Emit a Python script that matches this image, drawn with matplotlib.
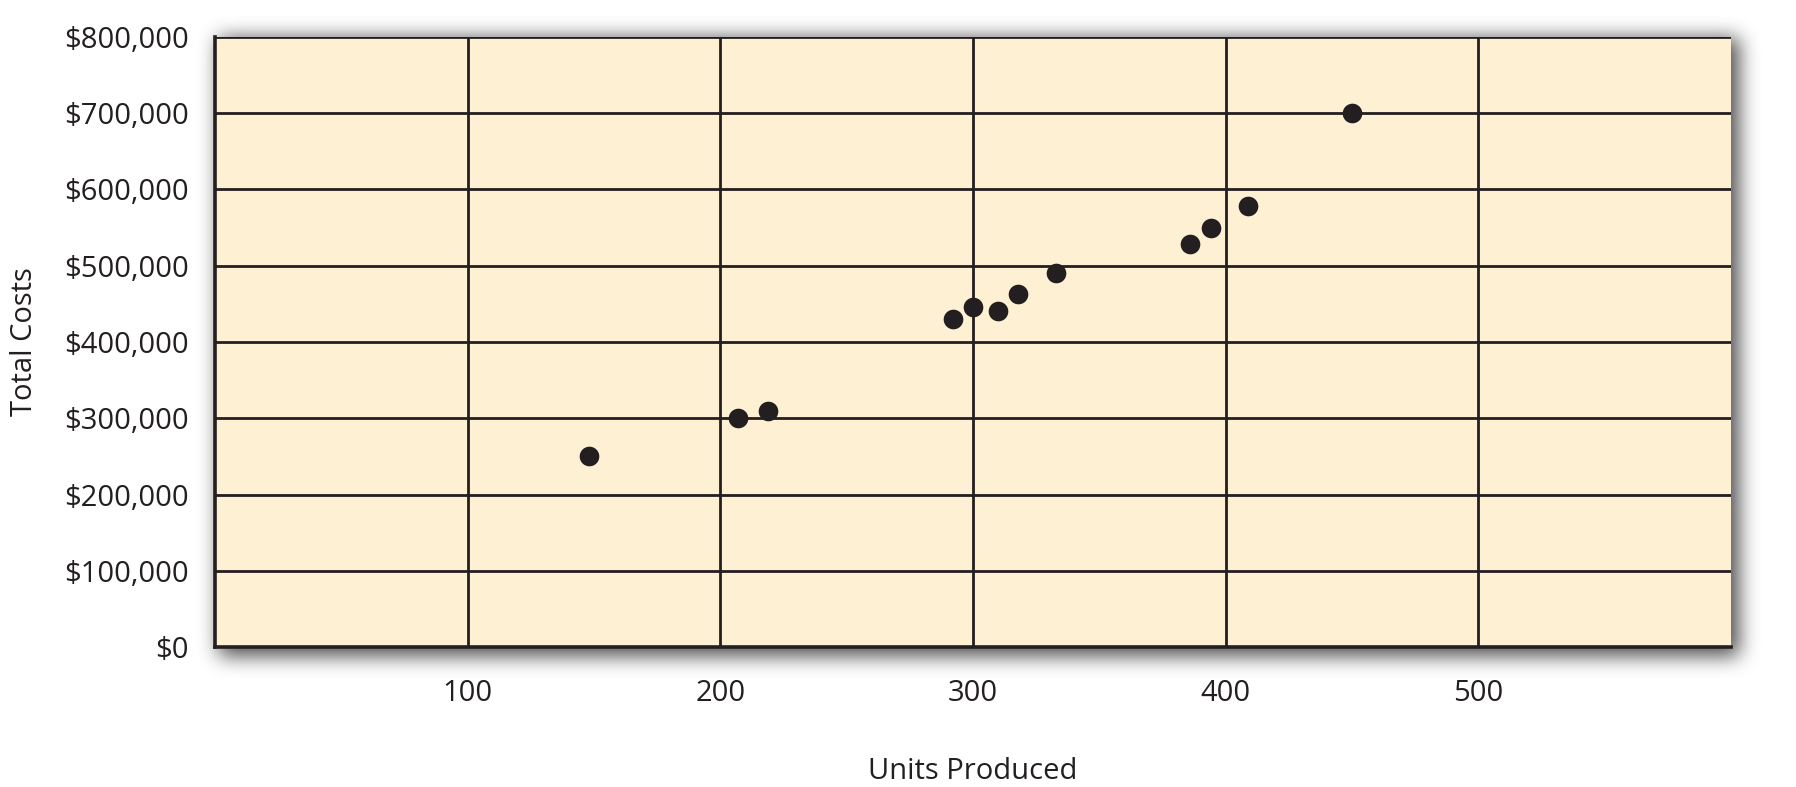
import numpy as np
import matplotlib
matplotlib.use("Agg")
import matplotlib.pyplot as plt
from matplotlib.ticker import FuncFormatter

# ---- data ----
units_produced = [148, 207, 219, 292, 300, 310, 318, 333, 386, 394, 409, 450]
total_costs = [250000, 300000, 310000, 430000, 446000, 441000, 463000, 490000,
               528000, 550000, 578000, 700000]
x_ticks = [100, 200, 300, 400, 500]
y_ticks = [0, 100000, 200000, 300000, 400000, 500000, 600000, 700000, 800000]
x_label = "Units Produced"
y_label = "Total Costs"

plt.rcParams['font.family'] = ['Open Sans', 'DejaVu Sans']

W, H = 1796, 787
fig = plt.figure(figsize=(W / 100, H / 100), dpi=100)
fig.patch.set_facecolor('white')
ax = fig.add_axes([215 / W, 140 / H, 1516 / W, 610 / H])

# ---- drop shadow behind the plot area ----
pos = ax.get_position()
x0 = int(pos.x0 * W) + 4
x1 = int(pos.x1 * W) + 8
y0 = int((1 - pos.y1) * H) + 2
y1 = int((1 - pos.y0) * H) + 9
mask = np.zeros((H, W))
mask[y0:y1, x0:x1] = 1.0


def box_blur(a, r, axis):
    k = np.ones(2 * r + 1) / (2 * r + 1)
    return np.apply_along_axis(lambda v: np.convolve(v, k, mode='same'), axis, a)


for _ in range(3):
    mask = box_blur(mask, 9, 0)
    mask = box_blur(mask, 9, 1)
shadow = np.zeros((H, W, 4))
shadow[..., :3] = 0.30
shadow[..., 3] = np.clip(mask * 1.0, 0, 1)
fig.figimage(shadow, xo=0, yo=0, origin='upper', zorder=0)

ink = '#231F20'
ax.set_facecolor('#FEF0D3')
ax.set_zorder(2)
ax.scatter(units_produced, total_costs, s=200, color=ink, zorder=5, linewidths=0)

ax.set_xlim(0, 600)
ax.set_ylim(0, 800000)
ax.set_xticks(x_ticks)
ax.set_yticks(y_ticks)
ax.yaxis.set_major_formatter(FuncFormatter(lambda v, p: "${:,.0f}".format(v)))
ax.grid(True, color=ink, linewidth=2.0)
ax.set_axisbelow(True)
ax.tick_params(length=0, labelsize=21, colors=ink)
ax.tick_params(axis='x', pad=23)
ax.tick_params(axis='y', pad=19)

for s in ['top', 'right']:
    ax.spines[s].set_visible(False)
for s in ['left', 'bottom']:
    ax.spines[s].set_color(ink)
    ax.spines[s].set_linewidth(2.6)
    ax.spines[s].set_zorder(4)

ax.set_xlabel(x_label, fontsize=21, color=ink, labelpad=35)
ax.set_ylabel(y_label, fontsize=21, color=ink, labelpad=18)

fig.savefig("out.png", dpi=100, facecolor='white')
